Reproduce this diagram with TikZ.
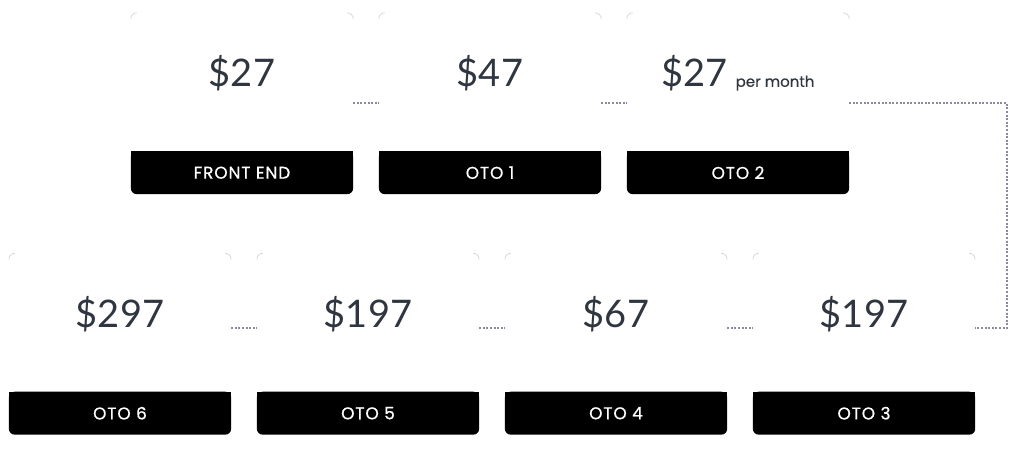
\documentclass[tikz,border=0pt]{standalone}
\usepackage{fontspec}
\newfontfamily\pricefont{Lato}
\newfontfamily\labelfont[FakeBold=0.7, LetterSpace=5]{Poppins}
\newfontfamily\notefont[FakeBold=0.5]{Poppins}
\definecolor{pricegray}{RGB}{47,54,64}
\definecolor{linkgray}{RGB}{138,138,165}
\definecolor{rimgray}{RGB}{212,212,212}
\begin{document}
\begin{tikzpicture}[x=1pt, y=1pt,
  card/.style={minimum width=222pt, minimum height=181pt, inner sep=0pt},
  tag/.style={text=white, inner sep=0pt, font=\labelfont\fontsize{17}{17}\selectfont},
  price/.style={text=pricegray, inner sep=0pt, anchor=base, font=\pricefont\fontsize{38}{38}\selectfont},
  link/.style={linkgray, line width=2pt, dash pattern=on 2pt off 1.6pt},
  cardrim/.style={rimgray, line width=0.7pt}]
\useasboundingbox (0,0) rectangle (1024,449);
% cards, top row
\node [card] (fe) at (242,345.5) {};
\node [card] (oto1) at (490,345.5) {};
\node [card] (oto2) at (738,345.5) {};
% cards, bottom row
\node [card] (oto6) at (120,105) {};
\node [card] (oto5) at (368,105) {};
\node [card] (oto4) at (616,105) {};
\node [card] (oto3) at (864,105) {};
% faint card corners
\draw [cardrim] ([yshift=-6pt]fe.north west) arc (180:90:6pt);
\draw [cardrim] ([xshift=-6pt]fe.north east) arc (90:0:6pt);
\draw [cardrim] ([yshift=-6pt]oto1.north west) arc (180:90:6pt);
\draw [cardrim] ([xshift=-6pt]oto1.north east) arc (90:0:6pt);
\draw [cardrim] ([yshift=-6pt]oto2.north west) arc (180:90:6pt);
\draw [cardrim] ([xshift=-6pt]oto2.north east) arc (90:0:6pt);
\draw [cardrim] ([yshift=-6pt]oto6.north west) arc (180:90:6pt);
\draw [cardrim] ([xshift=-6pt]oto6.north east) arc (90:0:6pt);
\draw [cardrim] ([yshift=-6pt]oto5.north west) arc (180:90:6pt);
\draw [cardrim] ([xshift=-6pt]oto5.north east) arc (90:0:6pt);
\draw [cardrim] ([yshift=-6pt]oto4.north west) arc (180:90:6pt);
\draw [cardrim] ([xshift=-6pt]oto4.north east) arc (90:0:6pt);
\draw [cardrim] ([yshift=-6pt]oto3.north west) arc (180:90:6pt);
\draw [cardrim] ([xshift=-6pt]oto3.north east) arc (90:0:6pt);
% black bars
\fill [black, rounded corners=6pt] (fe.south west) rectangle ([yshift=43pt]fe.south east);
\fill [black] ([yshift=30pt]fe.south west) rectangle ([yshift=43pt]fe.south east);
\fill [black, rounded corners=6pt] (oto1.south west) rectangle ([yshift=43pt]oto1.south east);
\fill [black] ([yshift=30pt]oto1.south west) rectangle ([yshift=43pt]oto1.south east);
\fill [black, rounded corners=6pt] (oto2.south west) rectangle ([yshift=43pt]oto2.south east);
\fill [black] ([yshift=30pt]oto2.south west) rectangle ([yshift=43pt]oto2.south east);
\fill [black, rounded corners=6pt] (oto6.south west) rectangle ([yshift=43pt]oto6.south east);
\fill [black] ([yshift=30pt]oto6.south west) rectangle ([yshift=43pt]oto6.south east);
\fill [black, rounded corners=6pt] (oto5.south west) rectangle ([yshift=43pt]oto5.south east);
\fill [black] ([yshift=30pt]oto5.south west) rectangle ([yshift=43pt]oto5.south east);
\fill [black, rounded corners=6pt] (oto4.south west) rectangle ([yshift=43pt]oto4.south east);
\fill [black] ([yshift=30pt]oto4.south west) rectangle ([yshift=43pt]oto4.south east);
\fill [black, rounded corners=6pt] (oto3.south west) rectangle ([yshift=43pt]oto3.south east);
\fill [black] ([yshift=30pt]oto3.south west) rectangle ([yshift=43pt]oto3.south east);
% bar labels
\node [tag] (fetag) at ([yshift=21.5pt]fe.south) {FRONT END};
\node [tag] (oto1tag) at ([yshift=21.5pt]oto1.south) {OTO 1};
\node [tag] (oto2tag) at ([yshift=21.5pt]oto2.south) {OTO 2};
\node [tag] (oto6tag) at ([yshift=21.5pt]oto6.south) {OTO 6};
\node [tag] (oto5tag) at ([yshift=21.5pt]oto5.south) {OTO 5};
\node [tag] (oto4tag) at ([yshift=21.5pt]oto4.south) {OTO 4};
\node [tag] (oto3tag) at ([yshift=21.5pt]oto3.south) {OTO 3};
% prices
\node [price] (feprice) at ([yshift=-74pt]fe.north) {\$27};
\node [price] (oto1price) at ([yshift=-74pt]oto1.north) {\$47};
\node [price] (oto2price) at ([yshift=-74pt]oto2.north) {\$27\hspace{8pt}{\notefont\fontsize{15}{15}\selectfont per month}};
\node [price] (oto6price) at ([yshift=-74pt]oto6.north) {\$297};
\node [price] (oto5price) at ([yshift=-74pt]oto5.north) {\$197};
\node [price] (oto4price) at ([yshift=-74pt]oto4.north) {\$67};
\node [price] (oto3price) at ([yshift=-74pt]oto3.north) {\$197};
% dotted links
\draw [link] (fe.east) -- (oto1.west);
\draw [link] (oto1.east) -- (oto2.west);
\coordinate (turn) at ([xshift=32pt,yshift=16pt]oto3.east);
\draw [link] (oto2.east) -| (turn) -- ([yshift=16pt]oto3.east);
\draw [link] ([yshift=16pt]oto4.east) -- ([yshift=16pt]oto3.west);
\draw [link] ([yshift=16pt]oto5.east) -- ([yshift=16pt]oto4.west);
\draw [link] ([yshift=16pt]oto6.east) -- ([yshift=16pt]oto5.west);
\end{tikzpicture}
\end{document}
